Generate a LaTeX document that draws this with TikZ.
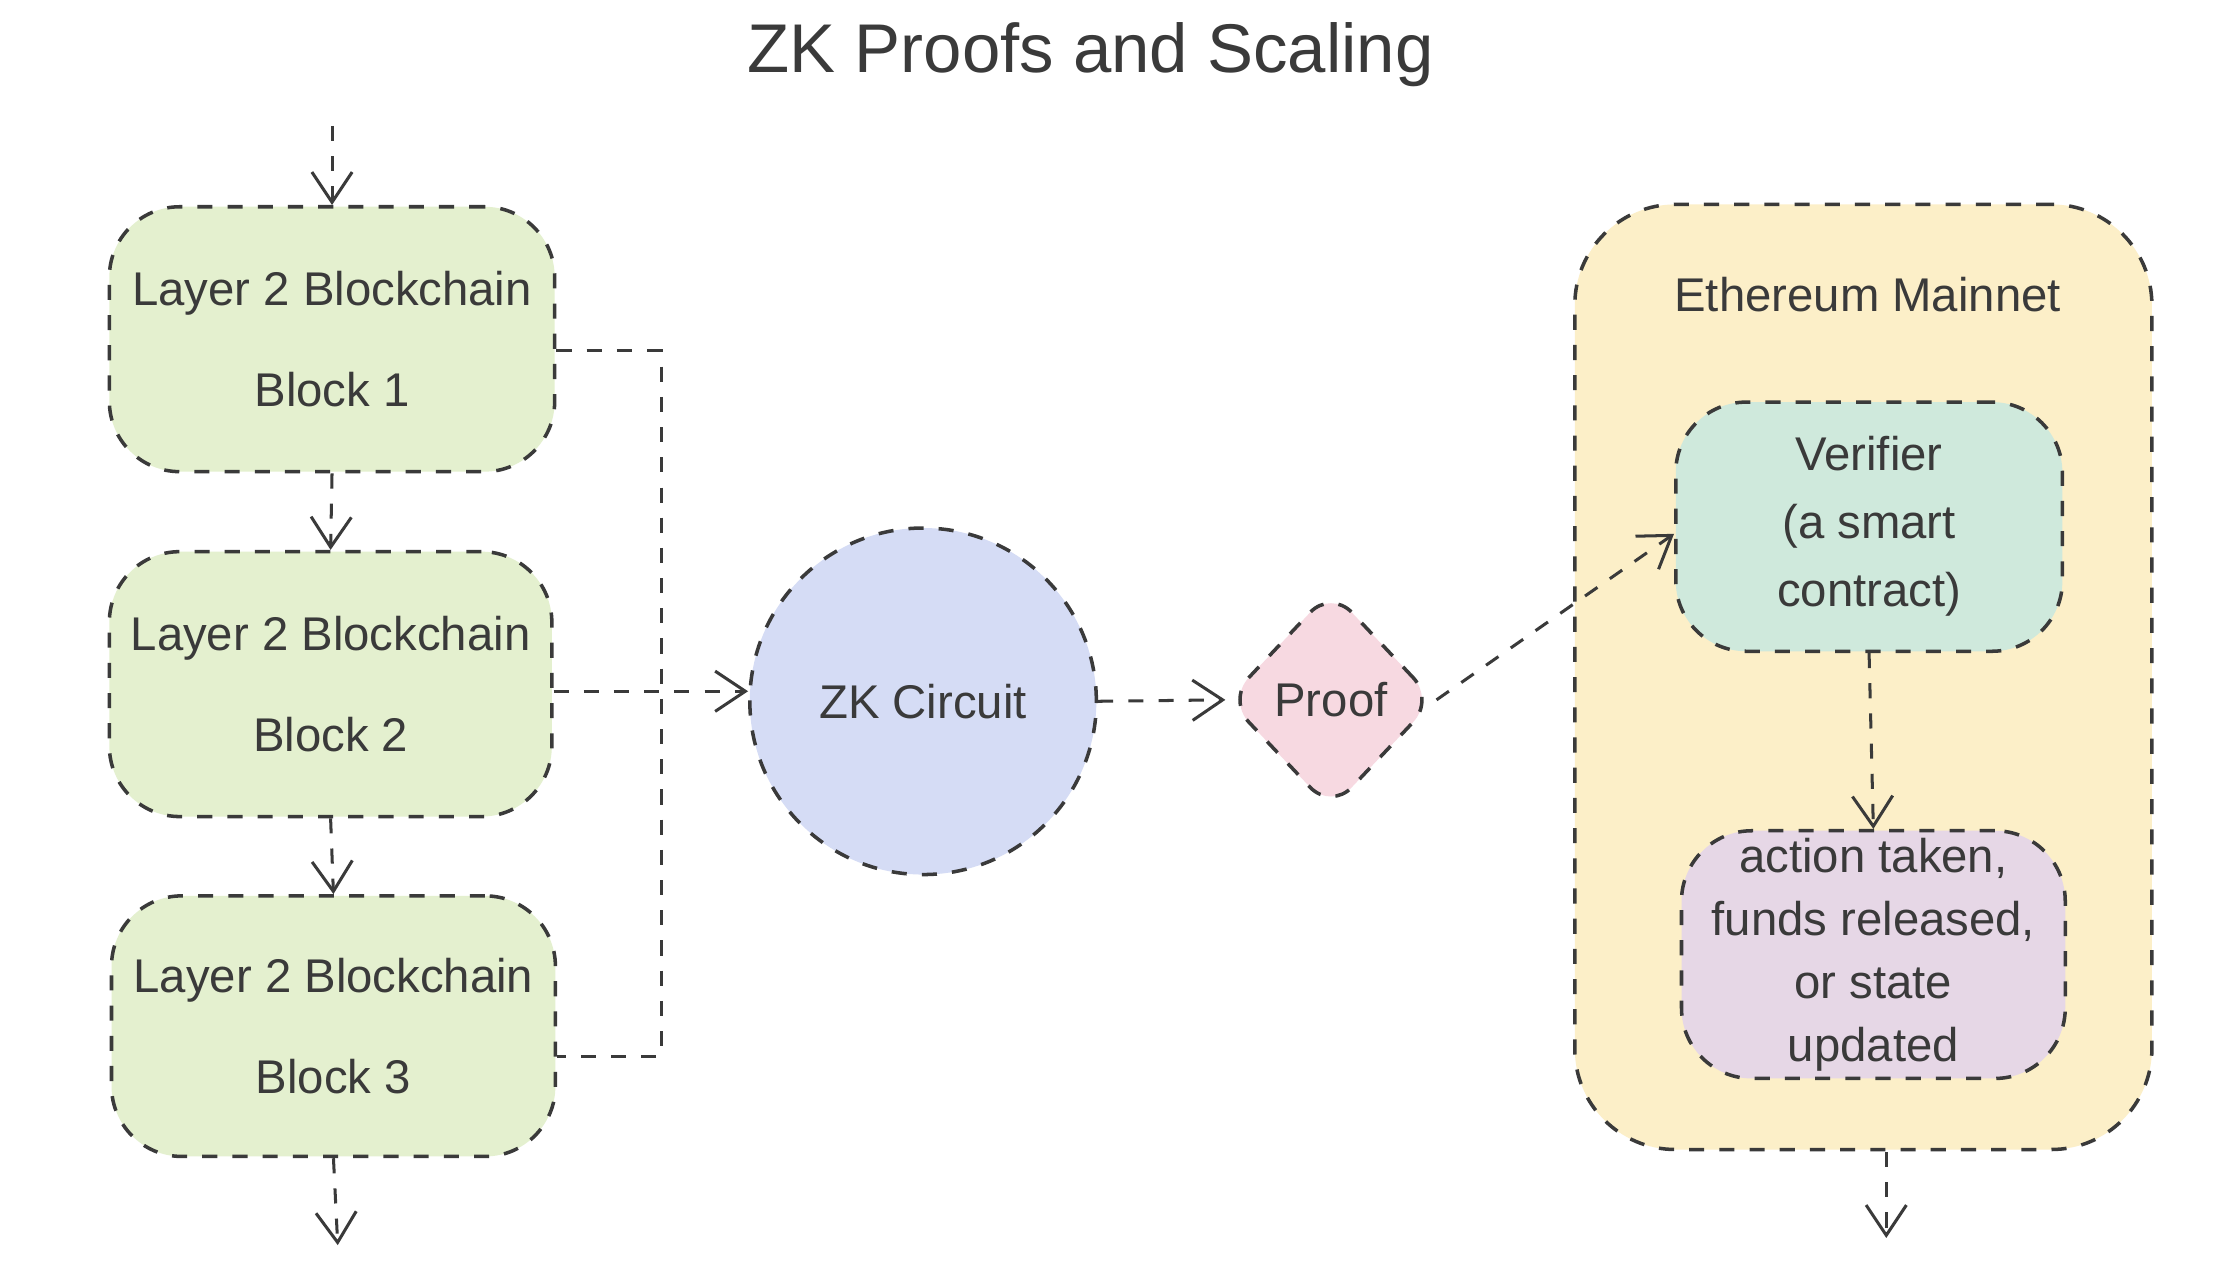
\documentclass[tikz,border=0pt]{standalone}
\usepackage{fontspec}
\setmainfont{Liberation Sans}
\usetikzlibrary{shapes.geometric,arrows.meta}
\definecolor{ink}{HTML}{3A3A3A}
\definecolor{gfill}{HTML}{E4F0CF}
\definecolor{bfill}{HTML}{D5DCF5}
\definecolor{pfill}{HTML}{F7D9E1}
\definecolor{yfill}{HTML}{FCEFC8}
\definecolor{tfill}{HTML}{CFE9DC}
\definecolor{vfill}{HTML}{E6D7E6}
\tikzset{
 box/.style={draw=ink,dashed,line width=0.7pt,rounded corners=14pt,align=center,inner sep=0pt,font=\fontsize{9.4}{20}\selectfont,text=ink},
 conn/.style={draw=ink,dashed,line width=0.6pt,-{Straight Barb[length=6pt,width=8pt]}},
 line/.style={draw=ink,dashed,line width=0.6pt}
}
\begin{document}
\begin{tikzpicture}[x=0.01cm,y=-0.01cm]
\useasboundingbox[fill=white] (0,0) rectangle (1554,880.5);
\node[font=\fontsize{13.7}{16}\selectfont,text=ink] (title) at (762,38) {ZK Proofs and Scaling};
\node[box,fill=gfill,minimum width=3.11cm,minimum height=1.85cm] (b1) at (232,237) {Layer 2 Blockchain\\Block 1};
\node[box,fill=gfill,minimum width=3.09cm,minimum height=1.85cm] (b2) at (231,478) {Layer 2 Blockchain\\Block 2};
\node[box,fill=gfill,minimum width=3.10cm,minimum height=1.82cm] (b3) at (233,717) {Layer 2 Blockchain\\Block 3};
\node[draw=ink,dashed,line width=0.7pt,circle,fill=bfill,minimum size=2.42cm,inner sep=0pt,font=\fontsize{9.4}{12}\selectfont,text=ink] (zk) at (645,490) {ZK Circuit};
\node[draw=ink,dashed,line width=0.7pt,diamond,fill=pfill,minimum width=1.45cm,minimum height=1.54cm,inner sep=0pt,rounded corners=6pt,font=\fontsize{9.4}{12}\selectfont,text=ink] (proof) at (930,489) {Proof};
\node[box,fill=yfill,minimum width=4.03cm,minimum height=6.60cm,rounded corners=20pt] (eth) at (1302,473) {};
\node[font=\fontsize{9.4}{12}\selectfont,text=ink] (ethl) at (1305,206) {Ethereum Mainnet};
\node[box,fill=tfill,minimum width=2.70cm,minimum height=1.74cm,font=\fontsize{9.4}{13.5}\selectfont] (ver) at (1306,368) {Verifier\\(a smart\\contract)};
\node[box,fill=vfill,minimum width=2.68cm,minimum height=1.73cm,font=\fontsize{9.4}{12.5}\selectfont] (act) at (1309,667) {action taken,\\funds released,\\or state\\updated};
\coordinate (top) at (232,88);
\coordinate (bot) at (236,870);
\coordinate (ebot) at (1318,865);
\coordinate (j1) at (462,245);
\coordinate (j3) at (462,738);
\draw[conn] (top) -- (b1.north);
\draw[conn] (b1.south) -- (b2.north);
\draw[conn] (b2.south) -- (b3.south |- b3.north);
\draw[conn] (b3.south) -- (bot);
\draw[line] (b1.east |- j1) -- (j1) -- (j3) -- (b3.east |- j3);
\draw[conn] (b2.east |- 0,483) -- (zk.west |- 0,483);
\draw[conn] (zk.east) -- (proof.west);
\draw[conn] (proof.east) -- (ver.west |- 0,373);
\draw[conn] (ver.south) -- (act.north);
\draw[conn] (1318,805) -- (ebot);
\end{tikzpicture}
\end{document}
